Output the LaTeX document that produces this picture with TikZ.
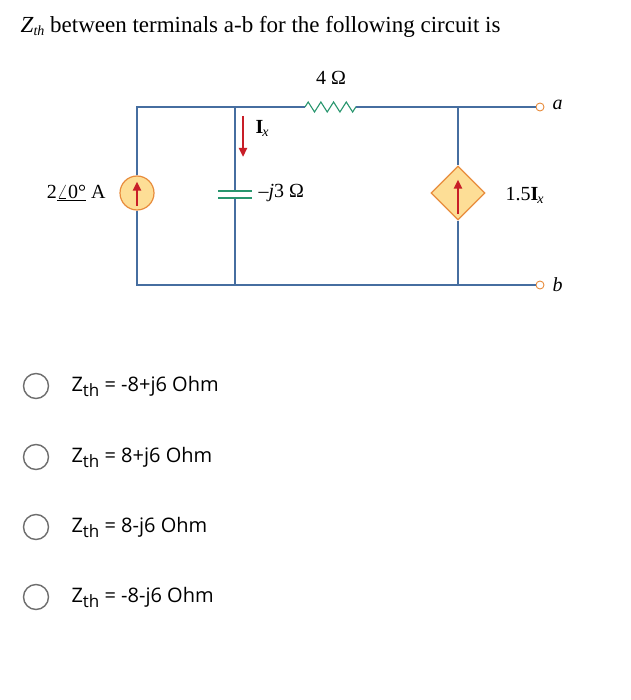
\documentclass[tikz,border=0pt]{standalone}
\usepackage{fontspec}
\setmainfont{Liberation Serif}
\newfontfamily\osans{Open Sans}
\usetikzlibrary{arrows.meta,decorations.pathmorphing,shapes.geometric}
\definecolor{wire}{RGB}{70,110,160}
\definecolor{resg}{RGB}{40,150,110}
\definecolor{srcfill}{RGB}{253,222,150}
\definecolor{srcline}{RGB}{232,140,60}
\definecolor{arr}{RGB}{200,30,40}
\definecolor{radio}{RGB}{110,110,110}
\newcommand{\sbx}[1]{\raisebox{-3pt}{\fontsize{14}{16}\selectfont\textit{#1}}}
\tikzset{
 w/.style={draw=wire,line width=1.3pt},
 src/.style={circle,draw=srcline,fill=srcfill,line width=1.2pt,minimum size=34pt,inner sep=0pt},
 dsrc/.style={diamond,draw=srcline,fill=srcfill,line width=1.2pt,minimum width=54pt,minimum height=54pt,inner sep=0pt},
 redarr/.style={draw=arr,line width=2.6pt,-{Triangle[length=9pt,width=8pt]}},
 term/.style={circle,draw=srcline,fill=white,line width=0.9pt,minimum size=8pt,inner sep=0pt},
 rad/.style={circle,draw=radio,line width=1.4pt,minimum size=25pt,inner sep=0pt},
 opt/.style={anchor=west,font=\osans\fontsize{20}{24}\selectfont},
 lbl/.style={font=\fontsize{20}{23}\selectfont}
}
\begin{document}
\begin{tikzpicture}[x=1pt,y=-1pt]
\useasboundingbox[fill=white] (0,0) rectangle (630,700);
\node[anchor=west,font=\fontsize{23}{27}\selectfont] (title) at (17,27) {\textit{Z}\sbx{th} between terminals a-b for the following circuit is};
\coordinate (tl) at (137,107); \coordinate (bl) at (137,285);
\coordinate (tc) at (235,107); \coordinate (bc) at (235,285);
\coordinate (r1) at (305,107); \coordinate (r2) at (356,107);
\coordinate (tr) at (458,107); \coordinate (br) at (458,285);
\coordinate (c1) at (235,191); \coordinate (c2) at (235,198);
\node[src] (is) at (137,193) {};
\node[dsrc] (ds) at (458,193) {};
\node[term] (a) at (540,107) {};
\node[term] (b) at (540,285) {};
\draw[w] (is.north) -- (tl) -- (tc) -- (r1);
\draw[draw=resg,line width=1.1pt,decorate,decoration={zigzag,segment length=12.7pt,amplitude=5pt}] (r1) -- (r2);
\draw[w] (r2) -- (tr) -- (a.west);
\draw[w] (tr) -- (ds.north);
\draw[w] (ds.south) -- (br);
\draw[w] (is.south) -- (bl) -- (bc) -- (br) -- (b.west);
\draw[w] (tc) -- (c1); \draw[w] (c2) -- (bc);
\draw[draw=resg,line width=1.6pt] (218,191) -- (252,191) (218,198) -- (252,198);
\draw[redarr] (is.south)++(0,-5) -- ++(0,-24);
\draw[redarr] (ds.south)++(0,-7) -- ++(0,-34);
\draw[redarr] (243,116) -- (243,157);
\node[lbl,anchor=west] (ix) at (252,128) {\textbf{I}\kern-1pt\sbx{x}};
\node[lbl] (r) at (331,78) {4 Ω};
\node[lbl,anchor=west] (cl) at (255,193) {–\textit{j}3 Ω};
\node[lbl,anchor=east] (il) at (109,193) {2\underline{$\angle$0°} A};
\node[lbl,anchor=west] (dl) at (502,195) {1.5\textbf{I}\kern-1pt\sbx{x}};
\node[lbl,anchor=west] (al) at (549,105) {\textit{a}};
\node[lbl,anchor=west] (bl2) at (549,285) {\textit{b}};
\foreach \y/\t [count=\i] in {386/-8+j6,457/8+j6,527/8-j6,597/-8-j6}{
 \node[rad] (o\i) at (36,\y) {};
 \node[opt] (t\i) at (68,\y) {Z\raisebox{-5pt}{\fontsize{17}{20}\selectfont th} = \t\ Ohm};
}
\end{tikzpicture}
\end{document}
